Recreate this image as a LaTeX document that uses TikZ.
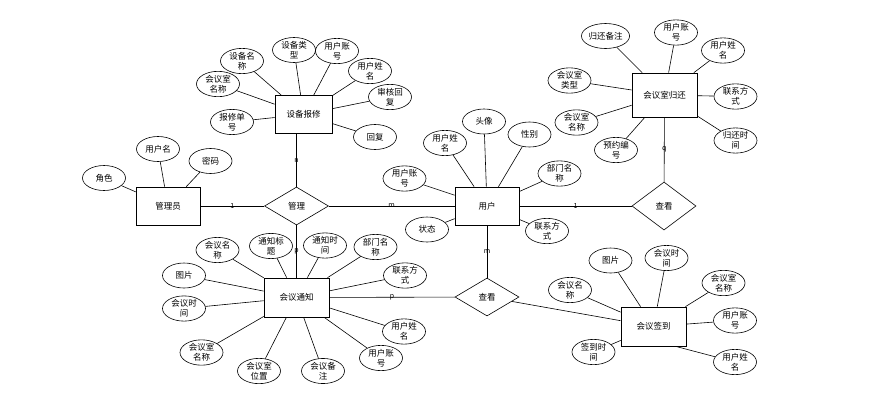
\documentclass[tikz,border=0pt]{standalone}
\usepackage{fontspec}
\setmainfont{Noto Sans CJK SC}
\usetikzlibrary{shapes.geometric}

\begin{document}
\begin{tikzpicture}[x=1pt,y=-1pt]
\tikzstyle{entity} = [
	shape=rectangle,
	draw=black, %border of the entity
	line width=0.7pt,
	minimum width=64pt, %size of the box
	minimum height=38pt,
	inner sep=1pt,
	font=\fontsize{8.5}{10}\selectfont
];
\tikzstyle{attrib} = [
	shape=ellipse,
	draw=black,
	line width=0.6pt,
	minimum width=43pt,
	minimum height=25pt,
	inner sep=0pt,
	align=center,
	font=\fontsize{8.5}{10}\selectfont
];
\tikzstyle{relation} = [
	shape=diamond,
	draw=black,
	line width=0.6pt,
	minimum width=64pt,
	minimum height=38pt,
	inner sep=0pt,
	font=\fontsize{8.5}{10}\selectfont
];
\tikzstyle{card} = [
	font=\fontsize{7}{7}\selectfont,
	inner sep=0pt
];

\useasboundingbox (0,0) rectangle (880,400);

%repair of devices
\begin{scope}[shift={(303.5,114.5)}]
	\node[entity, minimum width=57pt](Sb) at (0,0) {设备报修};
	\node[attrib](Sb1) at (-61.5,-53.5) {设备名\\称};
	\node[attrib](Sb2) at (-9.5,-64.5) {设备类\\型};
	\node[attrib](Sb3) at (33.5,-63.5) {用户账\\号};
	\node[attrib](Sb4) at (66.5,-43.5) {用户姓\\名};
	\node[attrib](Sb5) at (-85.5,-30.5) {会议室\\名称};
	\node[attrib](Sb6) at (86.5,-17.5) {审核回\\复};
	\node[attrib](Sb7) at (-71.5,7.5) {报修单\\号};
	\node[attrib](Sb8) at (71.5,22.5) {回复};
\end{scope}

%return of rooms
\begin{scope}[shift={(664.5,95)}]
	\node[entity, minimum width=65pt, minimum height=44pt](Gh) at (0,0) {会议室归还};
	\node[attrib](Gh1) at (-59,-59) {归还备注};
	\node[attrib](Gh2) at (11.5,-62.5) {用户账\\号};
	\node[attrib](Gh3) at (58.5,-44.5) {用户姓\\名};
	\node[attrib](Gh4) at (-95,-14.5) {会议室\\类型};
	\node[attrib](Gh5) at (71,1.5) {联系方\\式};
	\node[attrib](Gh6) at (-88,27.5) {会议室\\名称};
	\node[attrib](Gh7) at (-48.5,55) {预约编\\号};
	\node[attrib](Gh8) at (71,45.5) {归还时\\间};
\end{scope}

%administrator
\begin{scope}[shift={(168,206)}]
	\node[entity](Gl) at (0,0) {管理员};
	\node[attrib](Gl1) at (-10,-57) {用户名};
	\node[attrib](Gl2) at (42.5,-45) {密码};
	\node[attrib](Gl3) at (-64,-28) {角色};
\end{scope}

%user
\begin{scope}[shift={(487,206)}]
	\node[entity](Yh) at (0,0) {用户};
	\node[attrib](Yh1) at (-42,-63) {用户姓\\名};
	\node[attrib](Yh2) at (-3,-84.5) {头像};
	\node[attrib](Yh3) at (42.5,-71.5) {性别};
	\node[attrib](Yh4) at (-82.5,-27.5) {用户账\\号};
	\node[attrib](Yh5) at (72.5,-32.5) {部门名\\称};
	\node[attrib](Yh6) at (-60,23.5) {状态};
	\node[attrib](Yh7) at (60,25) {联系方\\式};
\end{scope}

%meeting notice
\begin{scope}[shift={(296.5,297.5)}]
	\node[entity, minimum width=65pt, minimum height=39pt](Tz) at (0,0) {会议通知};
	\node[attrib](Tz1) at (-79,-47.5) {会议名\\称};
	\node[attrib](Tz2) at (-25.5,-51.5) {通知标\\题};
	\node[attrib](Tz3) at (28.5,-52) {通知时\\间};
	\node[attrib](Tz4) at (79,-50.5) {部门名\\称};
	\node[attrib](Tz5) at (-112.5,-22) {图片};
	\node[attrib](Tz6) at (108.5,-22) {联系方\\式};
	\node[attrib](Tz7) at (-112.5,11) {会议时\\间};
	\node[attrib](Tz8) at (107.5,34) {用户姓\\名};
	\node[attrib](Tz9) at (-95,55) {会议室\\名称};
	\node[attrib](Tz10) at (84.5,60.5) {用户账\\号};
	\node[attrib](Tz11) at (-37.5,73.5) {会议室\\位置};
	\node[attrib](Tz12) at (26.5,73.5) {会议备\\注};
\end{scope}

%meeting sign in
\begin{scope}[shift={(653.5,326.5)}]
	\node[entity, minimum width=65pt, minimum height=39pt](Qd) at (0,0) {会议签到};
	\node[attrib](Qd1) at (-43,-66) {图片};
	\node[attrib](Qd2) at (13,-68.5) {会议时\\间};
	\node[attrib](Qd3) at (-83.5,-36.5) {会议名\\称};
	\node[attrib](Qd4) at (70,-43.5) {会议室\\名称};
	\node[attrib](Qd5) at (81.5,-6) {用户账\\号};
	\node[attrib](Qd6) at (-60,25.5) {签到时\\间};
	\node[attrib](Qd7) at (81.5,35.5) {用户姓\\名};
\end{scope}

%relations
\node[relation](Gm) at (296.5,206) {管理};
\node[relation, minimum height=48pt](Ck1) at (664,206) {查看};
\node[relation](Ck2) at (487,297) {查看};

%attributes
\draw[line width=0.6pt]
	(Sb1) edge (Sb) (Sb2) edge (Sb) (Sb3) edge (Sb) (Sb4) edge (Sb)
	(Sb5) edge (Sb) (Sb6) edge (Sb) (Sb7) edge (Sb) (Sb8) edge (Sb)
	(Gh1) edge (Gh) (Gh2) edge (Gh) (Gh3) edge (Gh) (Gh4) edge (Gh)
	(Gh5) edge (Gh) (Gh6) edge (Gh) (Gh7) edge (Gh) (Gh8) edge (Gh)
	(Gl1) edge (Gl) (Gl2) edge (Gl) (Gl3) edge (Gl)
	(Yh1) edge (Yh) (Yh2) edge (Yh) (Yh3) edge (Yh) (Yh4) edge (Yh)
	(Yh5) edge (Yh) (Yh6) edge (Yh) (Yh7) edge (Yh)
	(Tz1) edge (Tz) (Tz2) edge (Tz) (Tz3) edge (Tz) (Tz4) edge (Tz)
	(Tz5) edge (Tz) (Tz6) edge (Tz) (Tz7) edge (Tz) (Tz8) edge (Tz)
	(Tz9) edge (Tz) (Tz10) edge (Tz) (Tz11) edge (Tz) (Tz12) edge (Tz)
	(Qd1) edge (Qd) (Qd2) edge (Qd) (Qd3) edge (Qd) (Qd4) edge (Qd)
	(Qd5) edge (Qd) (Qd6) edge (Qd) (Qd7) edge (Qd.-42)
;

%cardinalities
\draw[line width=0.6pt]
	(Gl) edge node[card]{1} (Gm)
	(Gm) edge node[card]{m} (Yh)
	(Sb.south -| Gm) edge node[card]{n} (Gm)
	(Gm) edge node[card]{p} (Tz)
	(Yh) edge node[card]{1} (Ck1)
	(Gh) edge node[card]{q} (Ck1)
	(Yh) edge node[card]{m} (Ck2)
	(Tz) edge node[card]{p} (Ck2)
	(Ck2) edge (Qd)
;
\end{tikzpicture}
\end{document}
